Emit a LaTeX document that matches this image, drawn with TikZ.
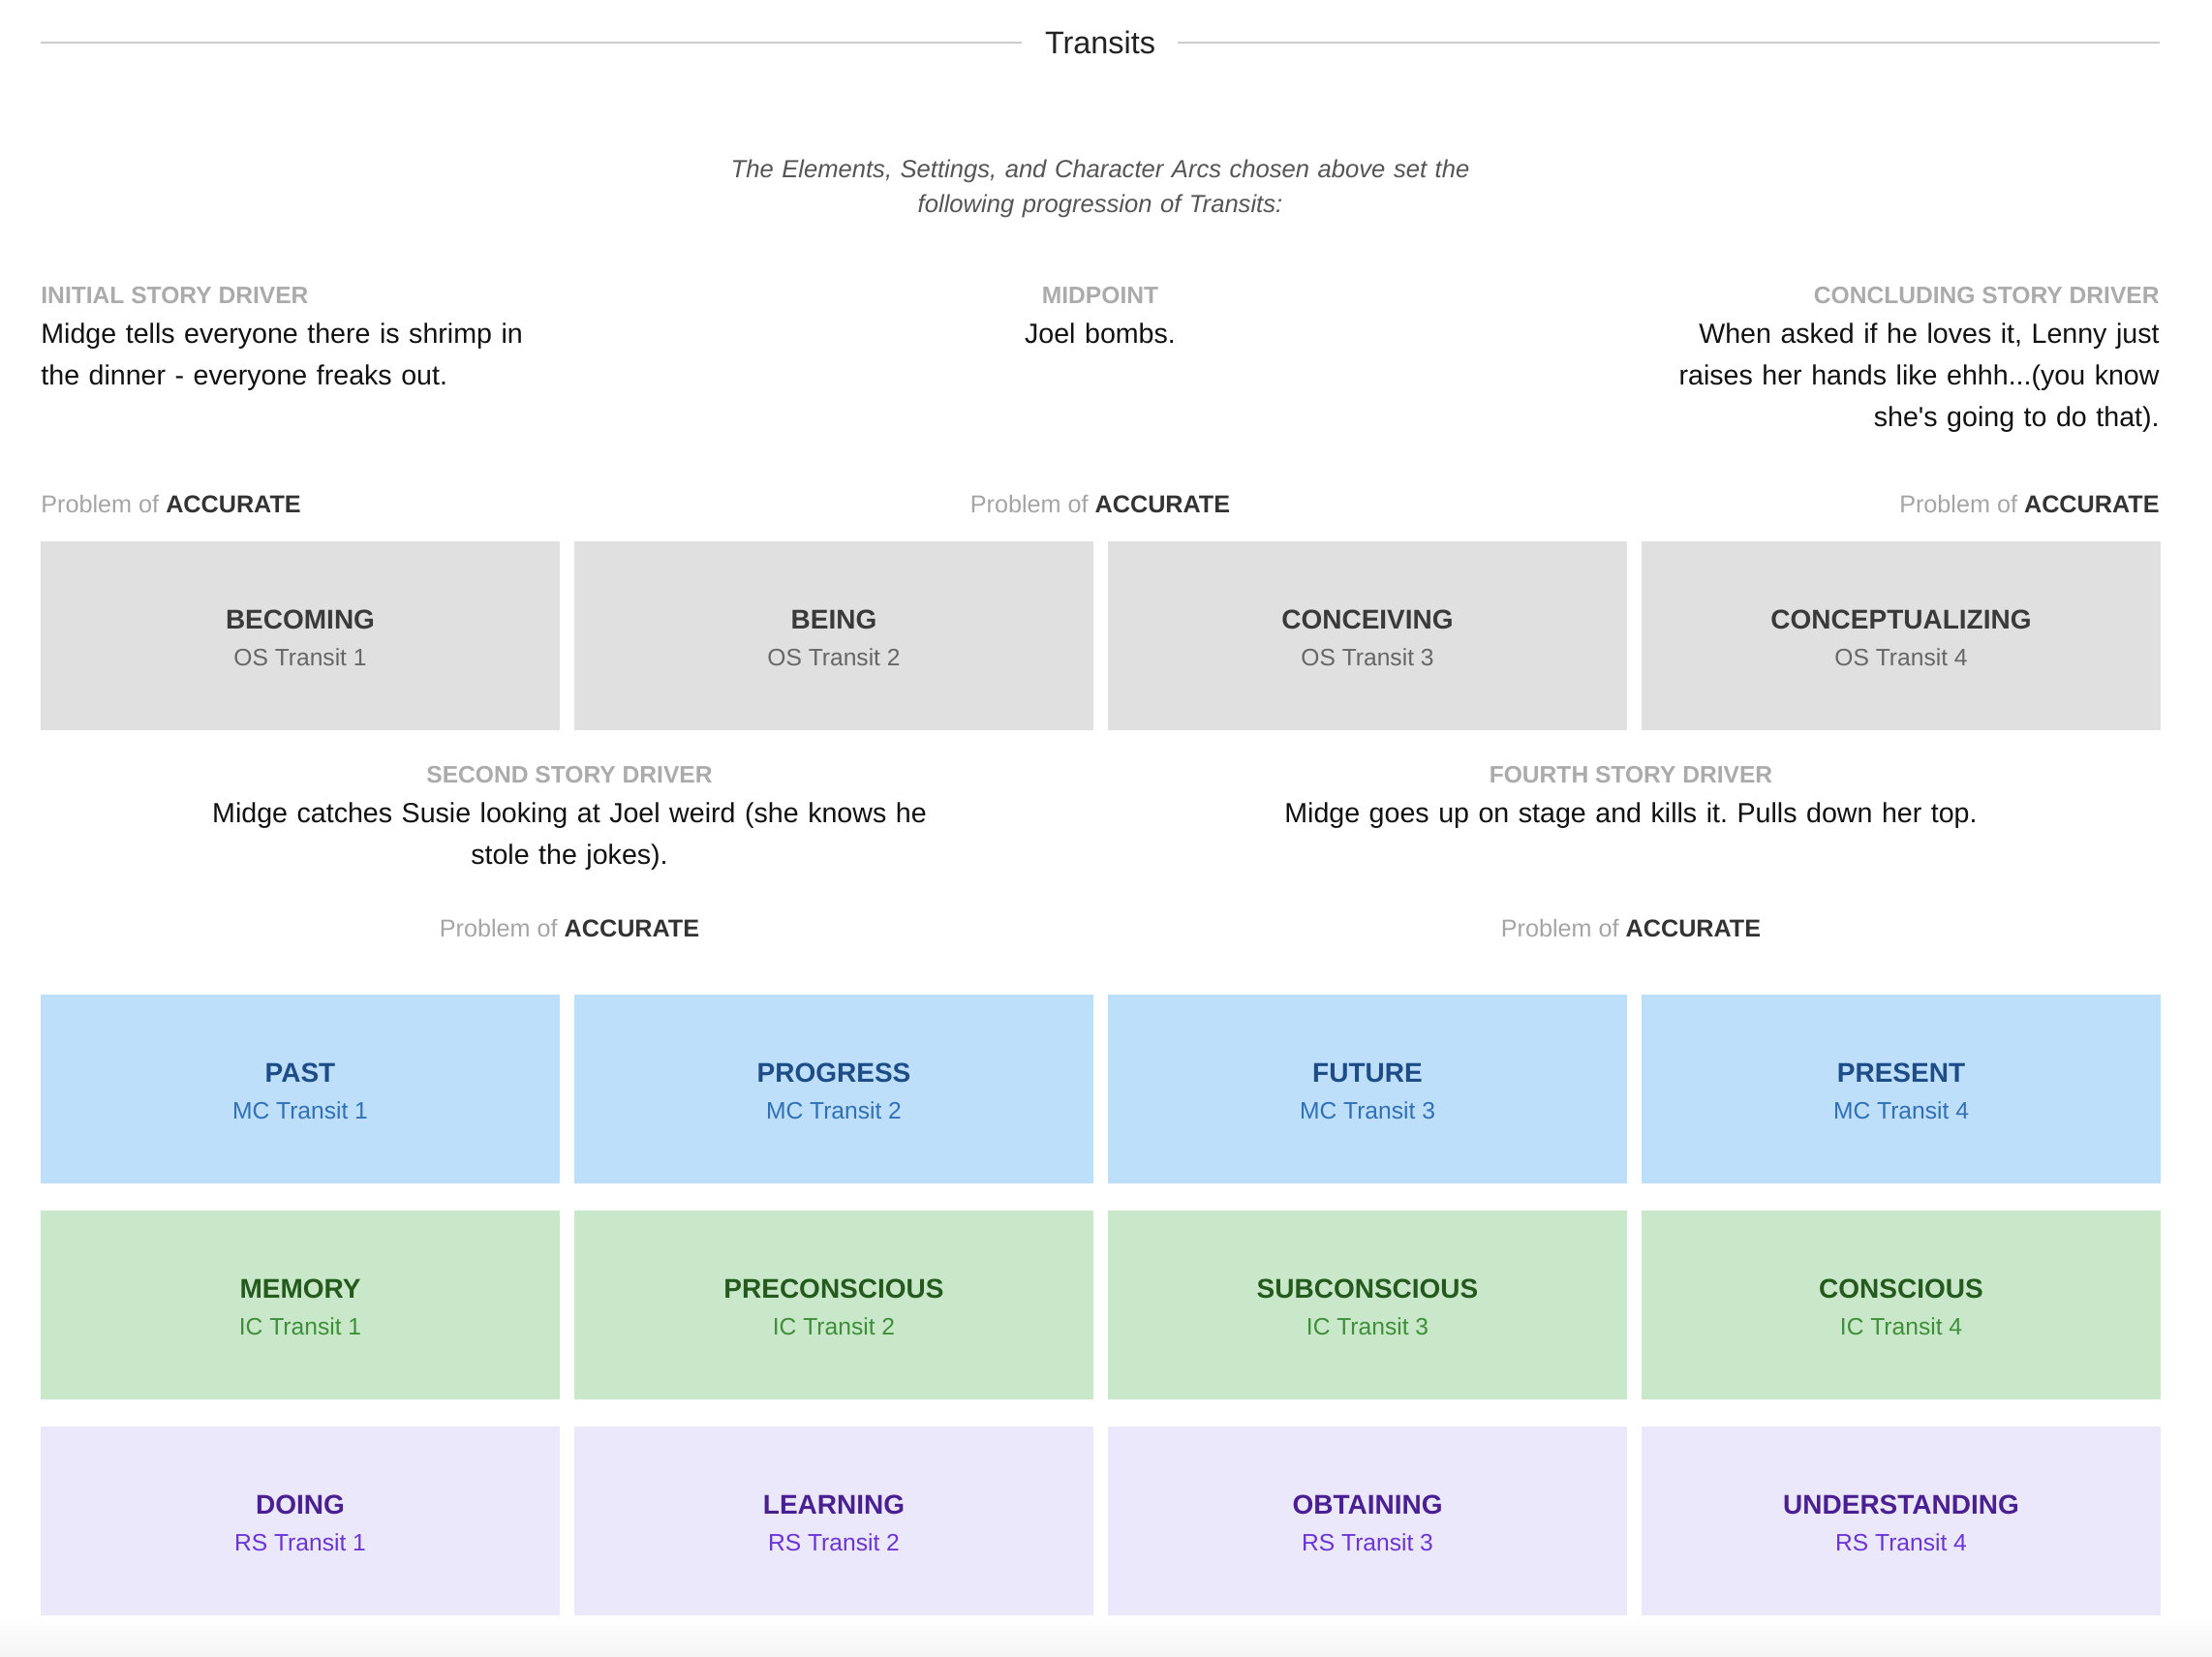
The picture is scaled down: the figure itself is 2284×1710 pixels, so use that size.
\documentclass[tikz,border=0pt]{standalone}
\usepackage{fontspec}
\setmainfont{Liberation Sans}[Ligatures=TeXOff]
\frenchspacing
\definecolor{titleblk}{HTML}{222222}
\definecolor{subgray}{HTML}{555555}
\definecolor{rulegray}{HTML}{CCCCCC}
\definecolor{lblgray}{HTML}{ABABAB}
\definecolor{bodyblk}{HTML}{111111}
\definecolor{probgray}{HTML}{A5A5A5}
\definecolor{accblk}{HTML}{333333}
\definecolor{osbg}{HTML}{E0E0E0}
\definecolor{osname}{HTML}{3A3A3A}
\definecolor{ossub}{HTML}{666666}
\definecolor{mcbg}{HTML}{BEDFF9}
\definecolor{mcname}{HTML}{1E4C87}
\definecolor{mcsub}{HTML}{3170B5}
\definecolor{icbg}{HTML}{C9E8C9}
\definecolor{icname}{HTML}{245A1E}
\definecolor{icsub}{HTML}{3E8E3A}
\definecolor{rsbg}{HTML}{ECE8FB}
\definecolor{rsname}{HTML}{4A1F91}
\definecolor{rssub}{HTML}{6B35D4}
\begin{document}
\begin{tikzpicture}[x=0.5pt,y=-0.5pt,
  cell/.style={rectangle, minimum width=268pt, minimum height=97.5pt, inner sep=0pt, draw=none, anchor=north},
  cname/.style={anchor=base, inner sep=0pt, font=\fontsize{14}{16}\selectfont\bfseries},
  csub/.style={anchor=base, inner sep=0pt, font=\fontsize{12.3}{14}\selectfont},
  lbl/.style={inner sep=0pt, font=\fontsize{12.3}{14}\selectfont\bfseries, text=lblgray},
  body/.style={inner sep=0pt, font=\fontsize{14.3}{21.5}\selectfont, text=bodyblk},
  prob/.style={inner sep=0pt, font=\fontsize{12.6}{14}\selectfont, text=probgray},
  rule/.style={draw=rulegray, line width=0.6pt}
]
\useasboundingbox (0,0) rectangle (2284,1710);
\fill[white] (0,0) rectangle (2284,1710);
\shade[top color=white, bottom color=black!4] (0,1668) rectangle (2284,1710);

% title
\node[anchor=base, inner sep=0pt, font=\fontsize{16.2}{18}\selectfont, text=titleblk] (title) at (1136,55) {Transits};
\coordinate (rl1) at (42,44); \coordinate (rl2) at (1055,44);
\coordinate (rr1) at (1216,44); \coordinate (rr2) at (2230,44);
\draw[rule] (rl1) -- (rl2);
\draw[rule] (rr1) -- (rr2);

\node[anchor=base, inner sep=0pt, text width=450pt, align=center, font=\fontsize{12.8}{18}\selectfont\itshape, text=subgray] (intro) at (1136,183)
  {The Elements, Settings, and Character Arcs chosen above set the\\following progression of Transits:};

% first drivers row
\node[lbl, anchor=base west] (l1) at (42,313) {INITIAL STORY DRIVER};
\node[lbl, anchor=base] (l2) at (1136,313) {MIDPOINT};
\node[lbl, anchor=base east] (l3) at (2230,313) {CONCLUDING STORY DRIVER};

\node[body, anchor=base west, text width=330pt, align=left] (b1) at (42,354)
  {Midge tells everyone there is shrimp in\\the dinner - everyone freaks out.};
\node[body, anchor=base, text width=300pt, align=center] (b2) at (1136,354) {Joel bombs.};
\node[body, anchor=base east, text width=330pt, align=right] (b3) at (2230,354)
  {When asked if he loves it, Lenny just\\raises her hands like ehhh...(you know\\she's going to do that).};

\node[prob, anchor=base west] (p1) at (42,529) {Problem of \textcolor{accblk}{\bfseries ACCURATE}};
\node[prob, anchor=base] (p2) at (1136,529) {Problem of \textcolor{accblk}{\bfseries ACCURATE}};
\node[prob, anchor=base east] (p3) at (2230,529) {Problem of \textcolor{accblk}{\bfseries ACCURATE}};

% OS row
\node[cell, fill=osbg] (os1) at (310,559) {};
\node[cell, fill=osbg] (os2) at (861,559) {};
\node[cell, fill=osbg] (os3) at (1412,559) {};
\node[cell, fill=osbg] (os4) at (1963,559) {};
\node[cname, text=osname] (os1n) at (310,649) {BECOMING};
\node[csub, text=ossub] (os1s) at (310,687) {OS Transit 1};
\node[cname, text=osname] (os2n) at (861,649) {BEING};
\node[csub, text=ossub] (os2s) at (861,687) {OS Transit 2};
\node[cname, text=osname] (os3n) at (1412,649) {CONCEIVING};
\node[csub, text=ossub] (os3s) at (1412,687) {OS Transit 3};
\node[cname, text=osname] (os4n) at (1963,649) {CONCEPTUALIZING};
\node[csub, text=ossub] (os4s) at (1963,687) {OS Transit 4};

% second drivers row
\node[lbl, anchor=base] (l4) at (588,808) {SECOND STORY DRIVER};
\node[lbl, anchor=base] (l5) at (1684,808) {FOURTH STORY DRIVER};
\node[body, anchor=base, text width=520pt, align=center] (b4) at (588,849)
  {Midge catches Susie looking at Joel weird (she knows he\\stole the jokes).};
\node[body, anchor=base, text width=520pt, align=center] (b5) at (1684,849)
  {Midge goes up on stage and kills it. Pulls down her top.};
\node[prob, anchor=base] (p4) at (588,967) {Problem of \textcolor{accblk}{\bfseries ACCURATE}};
\node[prob, anchor=base] (p5) at (1684,967) {Problem of \textcolor{accblk}{\bfseries ACCURATE}};

% MC row
\node[cell, fill=mcbg] (mc1) at (310,1027) {};
\node[cell, fill=mcbg] (mc2) at (861,1027) {};
\node[cell, fill=mcbg] (mc3) at (1412,1027) {};
\node[cell, fill=mcbg] (mc4) at (1963,1027) {};
\node[cname, text=mcname] (mc1n) at (310,1117) {PAST};
\node[csub, text=mcsub] (mc1s) at (310,1155) {MC Transit 1};
\node[cname, text=mcname] (mc2n) at (861,1117) {PROGRESS};
\node[csub, text=mcsub] (mc2s) at (861,1155) {MC Transit 2};
\node[cname, text=mcname] (mc3n) at (1412,1117) {FUTURE};
\node[csub, text=mcsub] (mc3s) at (1412,1155) {MC Transit 3};
\node[cname, text=mcname] (mc4n) at (1963,1117) {PRESENT};
\node[csub, text=mcsub] (mc4s) at (1963,1155) {MC Transit 4};

% IC row
\node[cell, fill=icbg] (ic1) at (310,1250) {};
\node[cell, fill=icbg] (ic2) at (861,1250) {};
\node[cell, fill=icbg] (ic3) at (1412,1250) {};
\node[cell, fill=icbg] (ic4) at (1963,1250) {};
\node[cname, text=icname] (ic1n) at (310,1340) {MEMORY};
\node[csub, text=icsub] (ic1s) at (310,1378) {IC Transit 1};
\node[cname, text=icname] (ic2n) at (861,1340) {PRECONSCIOUS};
\node[csub, text=icsub] (ic2s) at (861,1378) {IC Transit 2};
\node[cname, text=icname] (ic3n) at (1412,1340) {SUBCONSCIOUS};
\node[csub, text=icsub] (ic3s) at (1412,1378) {IC Transit 3};
\node[cname, text=icname] (ic4n) at (1963,1340) {CONSCIOUS};
\node[csub, text=icsub] (ic4s) at (1963,1378) {IC Transit 4};

% RS row
\node[cell, fill=rsbg] (rs1) at (310,1473) {};
\node[cell, fill=rsbg] (rs2) at (861,1473) {};
\node[cell, fill=rsbg] (rs3) at (1412,1473) {};
\node[cell, fill=rsbg] (rs4) at (1963,1473) {};
\node[cname, text=rsname] (rs1n) at (310,1563) {DOING};
\node[csub, text=rssub] (rs1s) at (310,1601) {RS Transit 1};
\node[cname, text=rsname] (rs2n) at (861,1563) {LEARNING};
\node[csub, text=rssub] (rs2s) at (861,1601) {RS Transit 2};
\node[cname, text=rsname] (rs3n) at (1412,1563) {OBTAINING};
\node[csub, text=rssub] (rs3s) at (1412,1601) {RS Transit 3};
\node[cname, text=rsname] (rs4n) at (1963,1563) {UNDERSTANDING};
\node[csub, text=rssub] (rs4s) at (1963,1601) {RS Transit 4};
\end{tikzpicture}
\end{document}
